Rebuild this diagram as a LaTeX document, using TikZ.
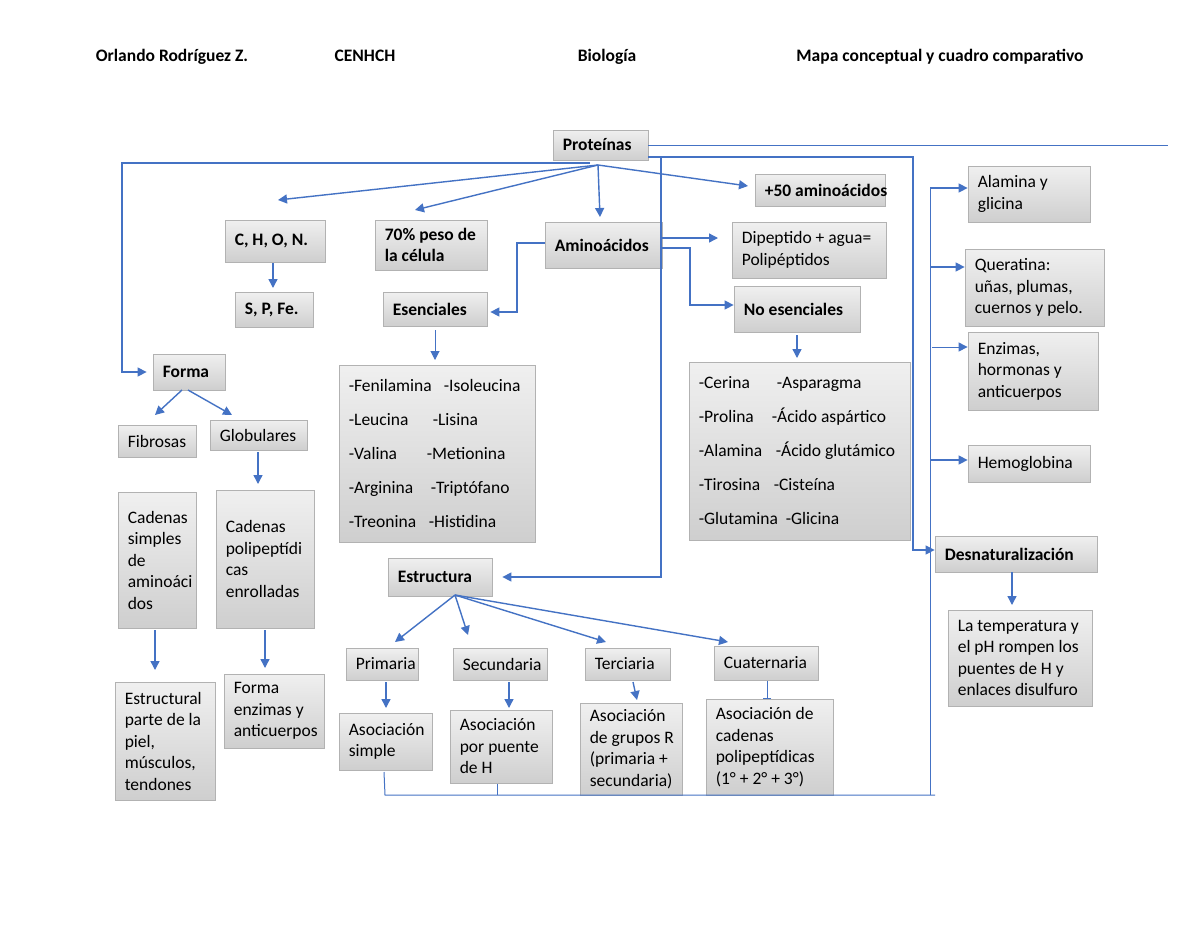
\documentclass[tikz,border=0pt]{standalone}
\usepackage{fontspec}
\setmainfont{Carlito}
\usetikzlibrary{arrows.meta}
\definecolor{ln}{RGB}{68,114,196}
\tikzset{box/.style={draw=gray!60,line width=0.8pt,top color=gray!12,bottom color=gray!38,inner sep=0pt},
 con/.style={ln,line width=1.4pt,-{Triangle[width=9pt,length=9pt]}},
 thin/.style={ln,line width=1pt},
 txt/.style={font=\fontsize{17.5}{21.5}\selectfont,align=left,inner sep=0pt},
 btxt/.style={font=\bfseries\fontsize{17.5}{21.5}\selectfont,align=left,inner sep=0pt},
 ltxt/.style={font=\fontsize{17.5}{34}\selectfont,align=left,inner sep=0pt}}
\newcommand\bx[7]{\node[box,minimum width={(#4-#2)*1pt},minimum height={(#5-#3)*1pt}] (#1) at ({(#2+#4)/2},{(#3+#5)/2}) {};
\node[#6,anchor=west] (#1t) at ([xshift=10pt]#1.west) {#7};}
\newcommand\cl[2]{\makebox[#1pt][l]{#2}}
\begin{document}
\begin{tikzpicture}[x=1pt,y=-1pt]
\useasboundingbox[fill=white] (0,0) rectangle (1200,927);
\node[btxt,anchor=base] (h1) at (172,61) {Orlando Rodríguez Z.};
\node[btxt,anchor=base] (h2) at (365,61) {CENHCH};
\node[btxt,anchor=base] (h3) at (607,61) {Biología};
\node[btxt,anchor=base] (h4) at (940,61) {Mapa conceptual y cuadro comparativo};
\bx{prot}{553}{130}{648}{160}{btxt}{Proteínas}
\bx{c50}{755}{174}{885}{206}{btxt}{+50 aminoácidos}
\bx{chon}{225}{220}{325}{262}{btxt}{C, H, O, N.}
\bx{p70}{375}{220}{487}{270}{btxt}{70\% peso de\\la célula}
\bx{amino}{545}{222}{662}{268}{btxt}{Aminoácidos}
\bx{spfe}{235}{292}{313}{327}{btxt}{S, P, Fe.}
\bx{esen}{383}{292}{487}{326}{btxt}{Esenciales}
\bx{dip}{732}{222}{886}{278}{txt}{Dipeptido + agua=\\Polipéptidos}
\bx{noes}{734}{286}{860}{332}{btxt}{No esenciales}
\bx{forma}{153}{354}{225}{390}{btxt}{Forma}
\bx{esl}{339}{365}{535}{542}{ltxt}{\cl{95}{-Fenilamina}-Isoleucina\\\cl{84}{-Leucina}-Lisina\\\cl{78}{-Valina}-Metionina\\\cl{82}{-Arginina}-Triptófano\\\cl{80}{-Treonina}-Histidina}
\bx{nol}{689}{362}{910}{540}{ltxt}{\cl{78}{-Cerina}-Asparagma\\\cl{73}{-Prolina}-Ácido aspártico\\\cl{77}{-Alamina}-Ácido glutámico\\\cl{75}{-Tirosina}-Cisteína\\\cl{87}{-Glutamina}-Glicina}
\bx{fib}{118}{425}{196}{457}{txt}{Fibrosas}
\bx{glob}{210}{420}{307}{450}{txt}{Globulares}
\bx{cs}{118}{492}{196}{628}{txt}{Cadenas\\simples\\de\\aminoáci\\dos}
\bx{cp}{216}{490}{314}{628}{txt}{Cadenas\\polipeptídi\\cas\\enrolladas}
\bx{est}{115}{682}{215}{800}{txt}{Estructural\\parte de la\\piel,\\músculos,\\tendones}
\bx{fez}{224}{674}{324}{748}{txt}{Forma\\enzimas y\\anticuerpos}
\bx{estr}{388}{558}{492}{596}{btxt}{Estructura}
\bx{pri}{346}{648}{418}{680}{txt}{Primaria}
\bx{sec}{453}{648}{547}{680}{txt}{Secundaria}
\bx{ter}{585}{648}{670}{680}{txt}{Terciaria}
\bx{cua}{714}{646}{818}{680}{txt}{Cuaternaria}
\bx{asim}{339}{713}{432}{770}{txt}{Asociación\\simple}
\bx{apue}{450}{710}{552}{783}{txt}{Asociación\\por puente\\de H}
\bx{agr}{580}{703}{682}{795}{txt}{Asociación\\de grupos R\\(primaria +\\secundaria)}
\bx{acad}{706}{699}{833}{795}{txt}{Asociación de\\cadenas\\polipeptídicas\\(1° + 2° + 3°)}
\bx{ala}{968}{166}{1090}{222}{txt}{Alamina y\\glicina}
\bx{que}{965}{249}{1104}{326}{txt}{Queratina:\\uñas, plumas,\\cuernos y pelo.}
\bx{enz}{968}{332}{1098}{410}{txt}{Enzimas,\\hormonas y\\anticuerpos}
\bx{hem}{968}{445}{1090}{482}{txt}{Hemoglobina}
\bx{des}{935}{536}{1097}{572}{btxt}{Desnaturalización}
\bx{temp}{948}{610}{1092}{706}{txt}{La temperatura y\\el pH rompen los\\puentes de H y\\enlaces disulfuro}
% connectors
\coordinate (ps) at (598,165);
\coordinate (far) at (1168,145);
\draw[thin] (prot.east |- 0,145) -- (far);
\draw[con] (prot.east |- 0,157) -- (913,157) -- (913,550) -- (des.west |- 0,550);
\draw[con] (661,157) -- (661,577) -- ([xshift=10pt]estr.east |- 0,577);
\draw[con] (ps) -- (278,200);
\draw[con] (ps) -- (415,210);
\draw[con] (ps) -- (600,217);
\draw[con] (ps) -- (748,186);
\draw[con] (590,163) -- (122,163) -- (122,372) -- ([xshift=-6pt]forma.west |- 0,372);
\draw[con] (273,263) -- (273,288);
\draw[con] (amino.west |- 0,243) -- (517,243) -- (517,312) -- ([xshift=3pt]esen.east |- 0,312);
\draw[con] (amino.east |- 0,238) -- (718,238);
\draw[con] (amino.east |- 0,248) -- (690,248) -- (690,305) -- (noes.west |- 0,305);
\draw[con,line width=1pt] (435,330) -- (435,360);
\draw[con] (797,335) -- (797,358);
\draw[con] (182,390) -- (155,415);
\draw[con] (188,390) -- (232,415);
\draw[con] (258,452) -- (258,484);
\draw[con] (155,630) -- (155,670);
\draw[con] (265,630) -- (265,668);
\coordinate (es) at (455,595);
\draw[con] (es) -- (395,642);
\draw[con] (es) -- (468,635);
\draw[con] (es) -- (606,642);
\draw[con] (es) -- (728,642);
\draw[con] (386,682) -- (386,708);
\draw[con] (509,682) -- (509,708);
\draw[con] (633,682) -- (637,700);
\draw[thin,-{Bar[width=8pt]}] (767,681) -- (767,699);
\draw[thin] (384,772) -- (385,795) -- (935,795);
\draw[thin] (497,784) -- (497,795);
\draw[thin] (930,795) -- (930,188);
\draw[con] (930,188) -- (ala.west |- 0,188);
\draw[con] (930,267) -- (que.west |- 0,267);
\draw[con,line width=1pt] (932,347) -- (enz.west |- 0,347);
\draw[con] (930,460) -- (hem.west |- 0,460);
\draw[con] (1012,572) -- (1012,605);
\end{tikzpicture}
\end{document}
